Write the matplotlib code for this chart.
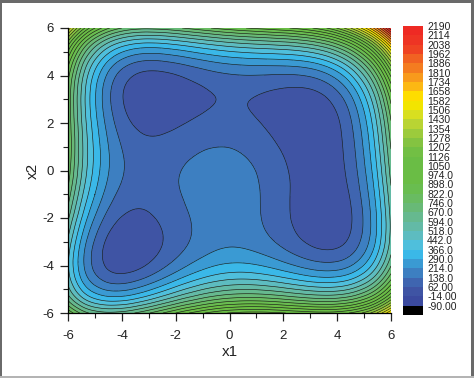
import matplotlib
matplotlib.use("Agg")
import matplotlib.pyplot as plt
import matplotlib.patches as patches
import matplotlib.tri as mtri
import numpy as np
from matplotlib.colors import ListedColormap, BoundaryNorm

plt.rcParams['font.family'] = ['Liberation Sans', 'DejaVu Sans']
plt.rcParams['axes.unicode_minus'] = False

# grid positions
x1 = [-6, -5.5, -5, -4.5, -4, -3.5, -3, -2.5, -2, -1.5, -1, -0.5, 0,
      0.5, 1, 1.5, 2, 2.5, 3, 3.5, 4, 4.5, 5, 5.5, 6]
x2 = x1

# surface values, one row per x2, bottom row first
z = [
    [890, 728, 640, 611, 626, 673, 740, 818, 898, 974, 1040, 1093, 1130, 1151, 1156, 1148, 1130, 1108, 1088, 1079, 1090, 1133, 1220, 1366, 1586],
    [678, 504, 405, 366, 371, 408, 466, 536, 608, 676, 735, 782, 813, 828, 828, 816, 794, 768, 745, 734, 743, 784, 870, 1016, 1236],
    [544, 359, 250, 200, 196, 224, 274, 335, 400, 461, 514, 554, 580, 590, 586, 569, 544, 515, 490, 476, 484, 524, 610, 755, 976],
    [473, 278, 158, 99, 86, 106, 147, 201, 259, 314, 360, 395, 416, 422, 413, 393, 365, 334, 306, 291, 298, 338, 423, 569, 791],
    [450, 245, 116, 48, 26, 38, 72, 119, 170, 219, 260, 290, 306, 308, 296, 273, 242, 209, 180, 164, 170, 210, 296, 443, 666],
    [463, 248, 110, 34, 4, 8, 35, 76, 121, 164, 200, 226, 238, 236, 221, 196, 163, 128, 98, 82, 88, 128, 215, 364, 589],
    [500, 276, 130, 45, 8, 5, 26, 60, 100, 138, 170, 191, 200, 195, 178, 150, 116, 80, 50, 33, 40, 81, 170, 320, 548],
    [552, 320, 165, 73, 29, 20, 34, 63, 98, 132, 159, 177, 183, 176, 156, 127, 92, 56, 25, 9, 17, 60, 150, 303, 534],
    [610, 370, 208, 109, 58, 43, 52, 76, 106, 136, 160, 175, 178, 169, 148, 118, 82, 46, 16, 1, 10, 55, 148, 304, 538],
    [668, 420, 251, 146, 89, 68, 72, 92, 118, 144, 165, 178, 179, 168, 146, 116, 80, 44, 15, 2, 13, 60, 156, 316, 554],
    [720, 465, 290, 178, 116, 90, 90, 105, 128, 151, 170, 180, 180, 168, 146, 115, 80, 45, 18, 6, 20, 70, 170, 333, 576],
    [763, 502, 320, 203, 136, 106, 101, 113, 133, 154, 170, 179, 178, 166, 143, 113, 79, 46, 20, 11, 28, 82, 185, 353, 601],
    [794, 527, 340, 218, 146, 112, 104, 113, 130, 149, 164, 172, 170, 158, 136, 107, 74, 43, 20, 14, 34, 92, 200, 373, 626],
    [813, 540, 348, 222, 146, 108, 97, 104, 119, 136, 150, 158, 156, 144, 123, 96, 65, 36, 16, 14, 38, 100, 213, 392, 651],
    [820, 542, 346, 215, 136, 95, 82, 86, 100, 116, 130, 137, 136, 125, 106, 80, 52, 26, 10, 11, 40, 107, 226, 410, 676],
    [818, 536, 335, 201, 119, 76, 60, 63, 76, 92, 105, 113, 113, 104, 86, 63, 38, 16, 3, 9, 43, 116, 240, 431, 704],
    [810, 524, 320, 183, 98, 53, 36, 38, 50, 66, 80, 89, 90, 83, 68, 48, 26, 8, 0, 11, 50, 129, 260, 458, 738],
    [802, 512, 305, 166, 79, 32, 14, 16, 28, 44, 59, 70, 73, 68, 56, 40, 22, 8, 5, 22, 67, 152, 290, 496, 784],
    [800, 507, 298, 156, 68, 20, 2, 3, 16, 33, 50, 62, 68, 66, 58, 45, 32, 23, 26, 48, 100, 192, 338, 551, 848],
    [813, 518, 306, 163, 74, 26, 7, 9, 23, 42, 60, 75, 84, 86, 81, 73, 65, 62, 70, 99, 158, 258, 411, 633, 939],
    [850, 553, 340, 196, 106, 58, 40, 43, 58, 79, 100, 118, 130, 136, 136, 133, 130, 133, 148, 184, 250, 358, 520, 751, 1066],
    [923, 624, 410, 266, 176, 128, 111, 116, 133, 156, 180, 202, 218, 228, 233, 236, 239, 248, 270, 314, 388, 504, 675, 916, 1241],
    [1044, 744, 530, 385, 296, 249, 234, 240, 260, 286, 314, 339, 360, 375, 386, 394, 404, 420, 450, 501, 584, 709, 890, 1140, 1476],
    [1228, 928, 713, 569, 481, 436, 422, 431, 454, 484, 515, 545, 571, 592, 608, 623, 640, 664, 701, 761, 853, 988, 1178, 1439, 1786],
    [1490, 1190, 976, 833, 746, 703, 692, 704, 730, 764, 800, 835, 866, 893, 916, 938, 962, 994, 1040, 1109, 1210, 1355, 1556, 1828, 2186],
]

# colorbar levels and their printed labels, bottom first
levels = [-90, -14, 62, 138, 214, 290, 366, 442, 518, 594, 670, 746, 822, 898,
          974, 1050, 1126, 1202, 1278, 1354, 1430, 1506, 1582, 1658, 1734,
          1810, 1886, 1962, 2038, 2114, 2190]
level_labels = ["-90.00", "-14.00", "62.00", "138.0", "214.0", "290.0", "366.0",
                "442.0", "518.0", "594.0", "670.0", "746.0", "822.0", "898.0",
                "974.0", "1050", "1126", "1202", "1278", "1354", "1430", "1506",
                "1582", "1658", "1734", "1810", "1886", "1962", "2038", "2114", "2190"]
band_colors = ["#3b4a9f", "#3f54a4", "#3f65b0", "#3d7fc1", "#3a9ad3", "#3ab8e8",
               "#4fbfdc", "#5dbcc0", "#63baa6", "#66b98f", "#68b977", "#69bb62",
               "#69bd50", "#6abd45", "#6abd45", "#6abd45", "#72bf44", "#84c341",
               "#9ccb3c", "#b9d433", "#d8df20", "#f2e500", "#fedd00", "#fcb813",
               "#f89a1c", "#f47c20", "#f16222", "#ef4323", "#ee3424", "#ee2a24"]

W, H = 474, 378
fig = plt.figure(figsize=(W / 100, H / 100), dpi=100)
ax = fig.add_axes([68 / W, 1 - 313 / H, 323 / W, 285 / H])
cax = fig.add_axes([403 / W, 1 - 315 / H, 20 / W, 289 / H])

cmap = ListedColormap(band_colors)
cmap.set_under("black")
norm = BoundaryNorm(levels, cmap.N)

X, Y = np.meshgrid(x1, x2)
Z = np.array(z, dtype=float)

# smooth contours through the read values, the way the tricontour demo does it
tri = mtri.Triangulation(X.ravel(), Y.ravel())
refiner = mtri.UniformTriRefiner(tri)
tri_fine, z_fine = refiner.refine_field(Z.ravel(), subdiv=3)
ax.tricontourf(tri_fine, z_fine, levels=levels, cmap=cmap, norm=norm, extend="min")
ax.tricontour(tri_fine, z_fine, levels=levels, colors="#1a1a1a", linewidths=0.45)

ax.set_xlim(-6, 6)
ax.set_ylim(-6, 6)
ax.set_xticks([-6, -4, -2, 0, 2, 4, 6])
ax.set_yticks([-6, -4, -2, 0, 2, 4, 6])
ax.set_xticks([-5, -3, -1, 1, 3, 5], minor=True)
ax.set_yticks([-5, -3, -1, 1, 3, 5], minor=True)
ax.tick_params(which="major", length=6, width=0.9, labelsize=9.5, colors="#222222", pad=4)
ax.tick_params(axis="x", which="major", pad=6)
ax.tick_params(which="minor", length=3.5, width=0.8, colors="#222222")
for s in ["top", "right"]:
    ax.spines[s].set_visible(False)
for s in ["left", "bottom"]:
    ax.spines[s].set_linewidth(0.9)
ax.set_xlabel("x1", fontsize=11, color="#222222")
ax.set_ylabel("x2", fontsize=11, color="#222222")
ax.xaxis.set_label_coords(0.5, -(352 - 313) / 285, transform=ax.transAxes)
ax.xaxis.label.set_verticalalignment("center")
ax.yaxis.set_label_coords(-(68 - 33) / 323, 0.5, transform=ax.transAxes)
ax.yaxis.label.set_verticalalignment("center")

# colorbar, black band sits below the lowest label
edges = [levels[0] - 76] + levels
cax.pcolormesh([0, 1], edges, np.array([[v - 1] for v in levels]), cmap=cmap, norm=norm)
cax.set_xlim(0, 1)
cax.set_ylim(edges[0], edges[-1])
cax.set_xticks([])
cax.yaxis.tick_right()
cax.set_yticks(levels)
cax.set_yticklabels(level_labels, fontsize=7.5, color="#222222")
cax.tick_params(axis="y", length=0, pad=3)
for s in cax.spines.values():
    s.set_visible(False)

# picture frame
for (x0, y0, w, h, c) in [(0, 0, 2, H, "#6a6a6a"), (0, H - 3, W, 3, "#6a6a6a"),
                          (W - 3, 0, 3, H, "#6a6a6a"), (0, 0, W, 2, "#b4b4b4")]:
    fig.add_artist(patches.Rectangle((x0 / W, y0 / H), w / W, h / H, transform=fig.transFigure,
                                     facecolor=c, edgecolor="none"))

fig.savefig("out.png", dpi=100)
